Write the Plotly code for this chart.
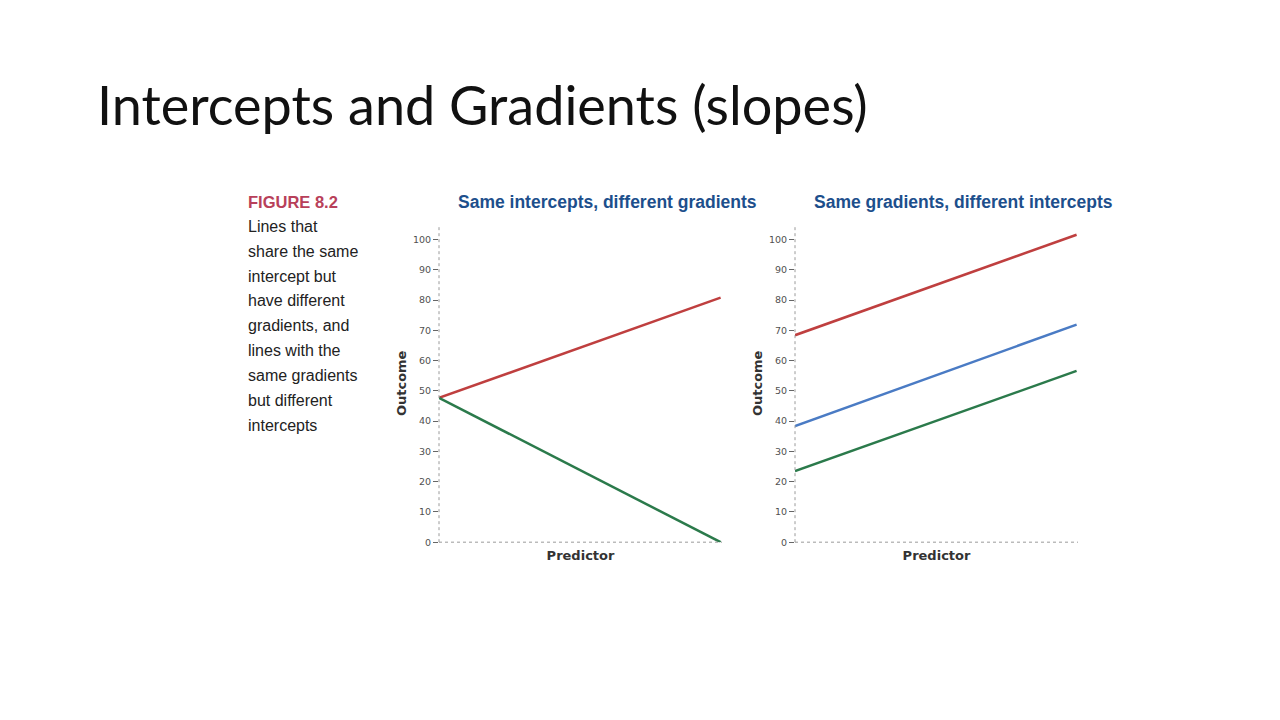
import plotly.graph_objects as go

# predictor end points (arbitrary units) and outcome values
predictor = [0, 1]

left_red = [47.7, 80.8]
left_green = [47.7, 0.0]

right_red = [68.4, 101.6]
right_blue = [38.4, 71.9]
right_green = [23.5, 56.6]

y_ticks = [0, 10, 20, 30, 40, 50, 60, 70, 80, 90, 100]

caption_lines = [
    "Lines that",
    "share the same",
    "intercept but",
    "have different",
    "gradients, and",
    "lines with the",
    "same gradients",
    "but different",
    "intercepts",
]

RED = "#bf3f3f"
GREEN = "#2b7a4b"
BLUE = "#4a7bc4"
TITLE_BLUE = "#1d4f8c"
AXIS_GREY = "#9a9a9a"

# the page body has an 8px margin, so the figure is laid out in page pixels minus that
W, H, OFF = 1264, 704, 8


def px(x):
    return (x - OFF) / W


def py(y):
    return 1 - (y - OFF) / H


fig = go.Figure()

for ys, col in [(left_red, RED), (left_green, GREEN)]:
    fig.add_trace(go.Scatter(x=predictor, y=ys, mode="lines",
                             line=dict(color=col, width=2.5),
                             xaxis="x", yaxis="y", showlegend=False, hoverinfo="skip"))

for ys, col in [(right_red, RED), (right_blue, BLUE), (right_green, GREEN)]:
    fig.add_trace(go.Scatter(x=predictor, y=ys, mode="lines",
                             line=dict(color=col, width=2.5),
                             xaxis="x2", yaxis="y2", showlegend=False, hoverinfo="skip"))

xaxis_common = dict(range=[0, 1.005], showgrid=False, zeroline=False, showline=False,
                    showticklabels=False, ticks="", fixedrange=True,
                    title=dict(text="<b>Predictor</b>", standoff=8,
                               font=dict(family="DejaVu Sans", size=13, color="#333333")))
yaxis_common = dict(range=[0, 105], showgrid=False, zeroline=False, showline=False,
                    tickvals=y_ticks, ticks="outside", ticklen=5, tickwidth=1,
                    tickcolor="#666666", tickfont=dict(family="DejaVu Sans", size=9.5, color="#505050"),
                    fixedrange=True,
                    title=dict(text="<b>Outcome</b>", standoff=3,
                               font=dict(family="DejaVu Sans", size=13, color="#333333")))

fig.update_layout(
    width=W, height=H,
    margin=dict(l=0, r=0, t=0, b=0),
    paper_bgcolor="white", plot_bgcolor="white",
    xaxis=dict(domain=[px(439), px(722)], anchor="y", **xaxis_common),
    yaxis=dict(domain=[py(546), py(226)], anchor="x", **yaxis_common),
    xaxis2=dict(domain=[px(795), px(1078)], anchor="y2", **xaxis_common),
    yaxis2=dict(domain=[py(546), py(226)], anchor="x2", **yaxis_common),
)

# dotted axis lines
for xr, yr in [("x", "y"), ("x2", "y2")]:
    fig.add_shape(type="line", xref=f"{xr} domain", yref=f"{yr} domain",
                  x0=0, x1=0, y0=0, y1=1, line=dict(color=AXIS_GREY, width=1, dash="dot"))
    fig.add_shape(type="line", xref=f"{xr} domain", yref=f"{yr} domain",
                  x0=0, x1=1, y0=0, y1=0, line=dict(color=AXIS_GREY, width=1, dash="dot"))

# slide title
fig.add_annotation(text="Intercepts and Gradients (slopes)", xref="paper", yref="paper",
                   x=px(95), y=py(105), xanchor="left", yanchor="middle",
                   showarrow=False, font=dict(family="Lato", size=54, color="#111111"))

# panel titles
fig.add_annotation(text="<b>Same intercepts, different gradients</b>", xref="paper", yref="paper",
                   x=px(607), y=py(203), xanchor="center", yanchor="middle",
                   showarrow=False, font=dict(family="Liberation Sans", size=17.5, color=TITLE_BLUE))
fig.add_annotation(text="<b>Same gradients, different intercepts</b>", xref="paper", yref="paper",
                   x=px(963), y=py(203), xanchor="center", yanchor="middle",
                   showarrow=False, font=dict(family="Liberation Sans", size=17.5, color=TITLE_BLUE))

# figure caption
fig.add_annotation(text="<b>FIGURE 8.2</b>", xref="paper", yref="paper",
                   x=px(246), y=py(203), xanchor="left", yanchor="middle",
                   showarrow=False,
                   font=dict(family="Liberation Sans", size=16.5, color="#b8405a"))
for i, line in enumerate(caption_lines):
    fig.add_annotation(text=line, xref="paper", yref="paper",
                       x=px(246), y=py(228 + 25 * i),
                       xanchor="left", yanchor="middle", showarrow=False,
                       font=dict(family="Liberation Sans", size=16, color="#222222"))

fig.write_html("out.html")
